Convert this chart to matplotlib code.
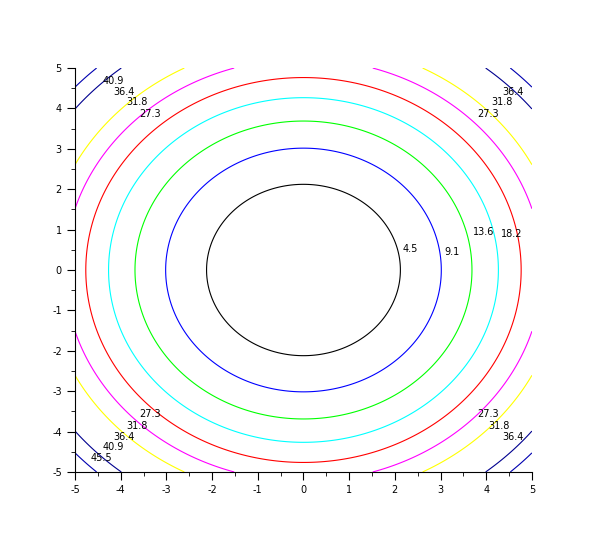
import numpy as np
import matplotlib
matplotlib.use("Agg")
import matplotlib.pyplot as plt
plt.rcParams['axes.unicode_minus'] = False

levels = [4.5, 9.1, 13.6, 18.2, 22.7, 27.3, 31.8, 36.4, 40.9, 45.5]
level_colors = ['black', 'blue', '#00ff00', 'cyan', 'red', 'magenta', 'yellow', 'white', '#00008f', '#0000b0']
label_vals = [4.5, 9.1, 13.6, 18.2, 36.4, 31.8, 27.3, 40.9, 36.4, 31.8, 27.3,
              27.3, 31.8, 36.4, 40.9, 45.5, 27.3, 31.8, 36.4]
label_x = [2.33, 3.25, 3.95, 4.56, 4.58, 4.34, 4.04, -4.17, -3.93, -3.64, -3.36,
           -3.36, -3.64, -3.93, -4.17, -4.43, 4.04, 4.29, 4.58]
label_y = [0.52, 0.45, 0.94, 0.89, 4.41, 4.16, 3.86, 4.68, 4.41, 4.16, 3.86,
           -3.56, -3.86, -4.13, -4.38, -4.65, -3.56, -3.86, -4.13]

x = np.linspace(-5, 5, 201)
y = np.linspace(-5, 5, 201)
X, Y = np.meshgrid(x, y)
Z = X**2 + Y**2

fig = plt.figure(figsize=(6.1, 5.4), dpi=100)
ax = fig.add_axes([0.123, 0.126, 0.749, 0.748])
ax.contour(X, Y, Z, levels=levels, colors=level_colors, linewidths=0.8)
for v, lx, ly in zip(label_vals, label_x, label_y):
    ax.text(lx, ly, f"{v:.1f}", fontsize=7, ha='center', va='center')
ax.set_xlim(-5, 5)
ax.set_ylim(-5, 5)
ax.set_xticks(range(-5, 6))
ax.set_yticks(range(-5, 6))
ax.set_xticks(np.arange(-5, 5.01, 0.5), minor=True)
ax.set_yticks(np.arange(-5, 5.01, 0.5), minor=True)
ax.spines['top'].set_visible(False)
ax.spines['right'].set_visible(False)
ax.tick_params(labelsize=7, length=6, width=0.8)
ax.tick_params(which='minor', length=3)
fig.savefig("out.png")
